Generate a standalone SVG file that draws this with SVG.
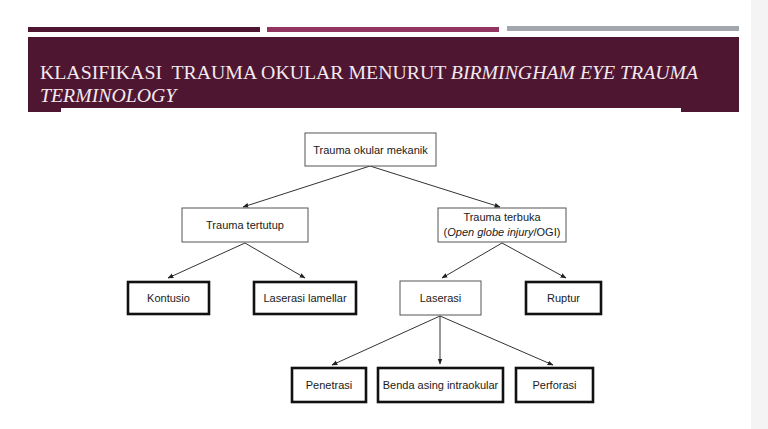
<svg xmlns="http://www.w3.org/2000/svg" width="768" height="429" viewBox="0 0 768 429">
<defs>
<marker id="ah" viewBox="0 0 10 10" refX="9" refY="5" markerWidth="6" markerHeight="6" orient="auto" markerUnits="userSpaceOnUse">
<path d="M0,1 L10,5 L0,9 z" fill="#222"/>
</marker>
<style>
.thin{fill:#fff;stroke:#555;stroke-width:1}
.thick{fill:#fff;stroke:#111;stroke-width:2.6}
.lbl{font-family:"Liberation Sans",Arial,sans-serif;font-size:11px;fill:#1a1a1a;text-anchor:middle}
.con{stroke:#333;stroke-width:1;fill:none;marker-end:url(#ah)}
.title{font-family:"Liberation Serif","Times New Roman",serif;font-size:19.8px;fill:#f3eaee;white-space:pre}
</style>
</defs>
<rect x="0" y="0" width="768" height="429" fill="#fff"/>
<rect x="751" y="0" width="17" height="429" fill="#f4f4f4"/>
<g id="header">
<rect x="28" y="27" width="232" height="5" fill="#4f1632"/>
<rect x="267" y="27" width="232" height="5" fill="#93335f"/>
<rect x="507" y="26" width="232" height="5" fill="#a2a6ad"/>
<path d="M28,37 H739 V112 H681 V108 H61 V112 H28 Z" fill="#4f1632"/>
<text class="title" x="40" y="79" xml:space="preserve">KLASIFIKASI  TRAUMA OKULAR MENURUT <tspan font-style="italic">BIRMINGHAM EYE TRAUMA</tspan></text>
<text class="title" x="40" y="102" font-style="italic">TERMINOLOGY</text>
</g>
<g id="connectors">
<line class="con" x1="370" y1="166" x2="243" y2="207"/>
<line class="con" x1="370" y1="166" x2="500" y2="207"/>
<line class="con" x1="245" y1="243" x2="168" y2="278"/>
<line class="con" x1="245" y1="243" x2="305" y2="278"/>
<line class="con" x1="502" y1="243" x2="442" y2="278"/>
<line class="con" x1="502" y1="243" x2="566" y2="278"/>
<line class="con" x1="440" y1="316" x2="332" y2="365"/>
<line class="con" x1="440" y1="316" x2="440" y2="364"/>
<line class="con" x1="440" y1="316" x2="553" y2="365"/>
</g>
<g id="n-mekanik">
<rect class="thin" x="305" y="133" width="131" height="33"/>
<text class="lbl" x="370.5" y="153.5">Trauma okular mekanik</text>
</g>
<g id="n-tertutup">
<rect class="thin" x="182" y="208" width="126" height="34"/>
<text class="lbl" x="245" y="229">Trauma tertutup</text>
</g>
<g id="n-terbuka">
<rect class="thin" x="438" y="208" width="128" height="34"/>
<text class="lbl" x="502" y="221">Trauma terbuka</text>
<text class="lbl" x="502" y="236">(<tspan font-style="italic">Open globe injury</tspan>/OGI)</text>
</g>
<g id="n-kontusio">
<rect class="thick" x="128" y="282" width="81" height="32"/>
<text class="lbl" x="168.5" y="302">Kontusio</text>
</g>
<g id="n-lamellar">
<rect class="thick" x="254" y="282" width="102" height="32"/>
<text class="lbl" x="305" y="302">Laserasi lamellar</text>
</g>
<g id="n-laserasi">
<rect class="thin" x="400" y="281" width="81" height="34"/>
<text class="lbl" x="440.5" y="302">Laserasi</text>
</g>
<g id="n-ruptur">
<rect class="thick" x="526" y="282" width="75" height="32"/>
<text class="lbl" x="563.5" y="302">Ruptur</text>
</g>
<g id="n-penetrasi">
<rect class="thick" x="292" y="368" width="74" height="34"/>
<text class="lbl" x="329" y="389">Penetrasi</text>
</g>
<g id="n-benda">
<rect class="thick" x="378" y="368" width="125" height="34"/>
<text class="lbl" x="440.5" y="389">Benda asing intraokular</text>
</g>
<g id="n-perforasi">
<rect class="thick" x="516" y="368" width="77" height="34"/>
<text class="lbl" x="554.5" y="389">Perforasi</text>
</g>
</svg>
